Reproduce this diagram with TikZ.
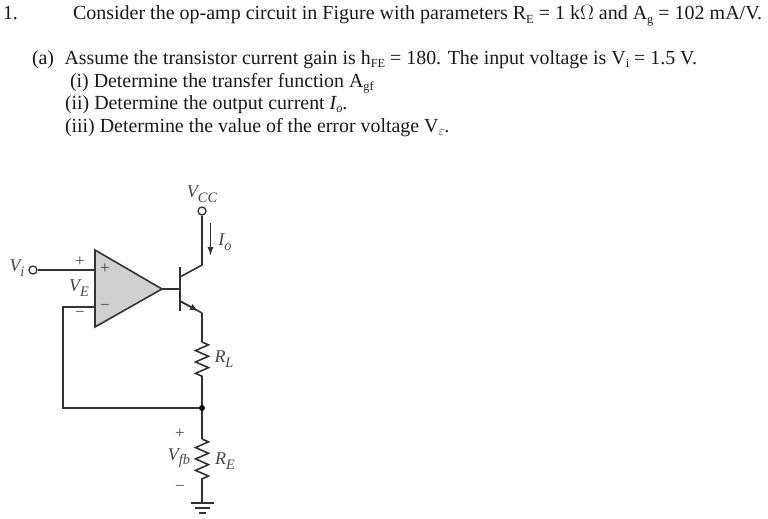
\documentclass[tikz,border=0pt]{standalone}
\usepackage{fontspec}
\setmainfont{Liberation Serif}
\usetikzlibrary{decorations.pathmorphing,arrows.meta}
\newcommand{\lsub}[1]{\raisebox{-0.18em}{\scalebox{0.62}{#1}}}
\newcommand{\fsub}[1]{\raisebox{-0.25em}{\scalebox{0.8}{#1}}}
\definecolor{wire}{gray}{0.2}
\definecolor{lab}{gray}{0.27}
\tikzset{
  txt/.style={anchor=base west,inner sep=0pt,outer sep=0pt,font=\fontsize{20}{20}\selectfont,text=black!90,xscale=0.995},
  lbl/.style={inner sep=0pt,outer sep=0pt,font=\fontsize{18}{18}\selectfont\itshape,text=lab},
  sgn/.style={inner sep=0pt,outer sep=0pt,font=\fontsize{17}{17}\selectfont,text=lab},
  wr/.style={draw=wire,line width=1.6pt},
  term/.style={circle,draw=wire,line width=1.3pt,fill=white,minimum size=8pt,inner sep=0pt},
  res/.style={wr,decorate,decoration={zigzag,segment length=11.4pt,amplitude=6.5pt}},
  junction/.style={circle,fill=black,minimum size=6pt,inner sep=0pt}
}
\begin{document}
\begin{tikzpicture}[x=1pt,y=-1pt]
\useasboundingbox (0,0) rectangle (768,519);
% text
\node[txt] (n1) at (3,20) {1.};
\node[txt,xscale=1.005] (l1) at (73,20) {Consider the op-amp circuit in Figure with parameters R\lsub{E} = 1 k$\Omega$ and A\lsub{g} = 102 mA/V.};
\node[txt] (l2) at (32,64) {(a)\hspace{0.28em} Assume the transistor current gain is h\lsub{FE} = 180. The input voltage is V\lsub{i} = 1.5 V.};
\node[txt] (l3) at (70,87) {(i) Determine the transfer function A\lsub{gf}};
\node[txt] (l4) at (65,109) {(ii) Determine the output current \textit{I\lsub{o}}.};
\node[txt] (l5) at (65,132) {(iii) Determine the value of the error voltage V\lsub{$\varepsilon$}.};
% op-amp
\coordinate (ta) at (95,250);
\coordinate (tb) at (95,327);
\coordinate (tip) at (162,289);
\path[fill=gray!38,draw=wire,line width=1.6pt,line join=miter] (ta) -- (tip) -- (tb) -- cycle;
\coordinate (inp) at (95,270);
\coordinate (inm) at (95,307);
\node[term] (vi) at (33,270) {};
\draw[wr] (vi) -- (inp);
\coordinate (fbc) at (63,307);
\coordinate (fbb) at (63,408);
\node[junction] (j) at (202,408) {};
\draw[wr] (inm) -- (fbc) -- (fbb) -- (j);
% transistor
\coordinate (bt) at (180,267);
\coordinate (bb) at (180,311);
\coordinate (bl) at (180,289);
\draw[wr,line width=2pt] (bt) -- (bb);
\draw[wr] (tip) -- (bl);
\node[term] (vcc) at (202,211) {};
\coordinate (cc) at (202,265);
\coordinate (cb) at (180,277);
\draw[wr] (vcc) -- (cc) -- (cb);
\coordinate (eb) at (180,301);
\coordinate (ec) at (202,313);
\draw[wr] (eb) -- (ec);
\draw[-{Latex[length=8pt,width=7pt]},wr] (eb) -- (198,310.8);
% resistors
\coordinate (rlt) at (202,342);
\coordinate (rlb) at (202,381);
\coordinate (ret) at (202,439);
\coordinate (reb) at (202,480);
\draw[wr] (ec) -- (rlt);
\draw[res] (rlt) -- (rlb);
\draw[wr] (rlb) -- (j) -- (ret);
\draw[res] (ret) -- (reb);
% ground
\coordinate (g1) at (202,503);
\draw[wr] (reb) -- (g1);
\draw[wr] (190.5,503) -- (213.5,503);
\draw[wr] (194.5,508) -- (209.5,508);
\draw[wr] (198.5,513) -- (205.5,513);
% current arrow
\coordinate (ia) at (210.5,223);
\coordinate (ib) at (210.5,256);
\draw[wire,line width=1.4pt,-{Latex[length=9pt,width=6pt]}] (ia) -- (ib);
% labels
\node[lbl] (lvi) at (17,268) {V\fsub{i}};
\node[lbl] (lve) at (79,288) {V\fsub{E}};
\node[lbl] (lvcc) at (202,194) {V\fsub{CC}};
\node[lbl] (lio) at (225,242) {I\fsub{o}};
\node[lbl] (lrl) at (224,359) {R\fsub{L}};
\node[lbl] (lre) at (225,461) {R\fsub{E}};
\node[lbl] (lvf) at (179,458) {V\fsub{fb}};
\node[sgn] (p1) at (80,262) {+};
\node[sgn] (m1) at (80,314) {−};
\node[sgn] (p2) at (105,269) {+};
\node[sgn] (m2) at (105,307) {−};
\node[sgn] (p3) at (180,434) {+};
\node[sgn] (m3) at (180,488) {−};
\end{tikzpicture}
\end{document}
